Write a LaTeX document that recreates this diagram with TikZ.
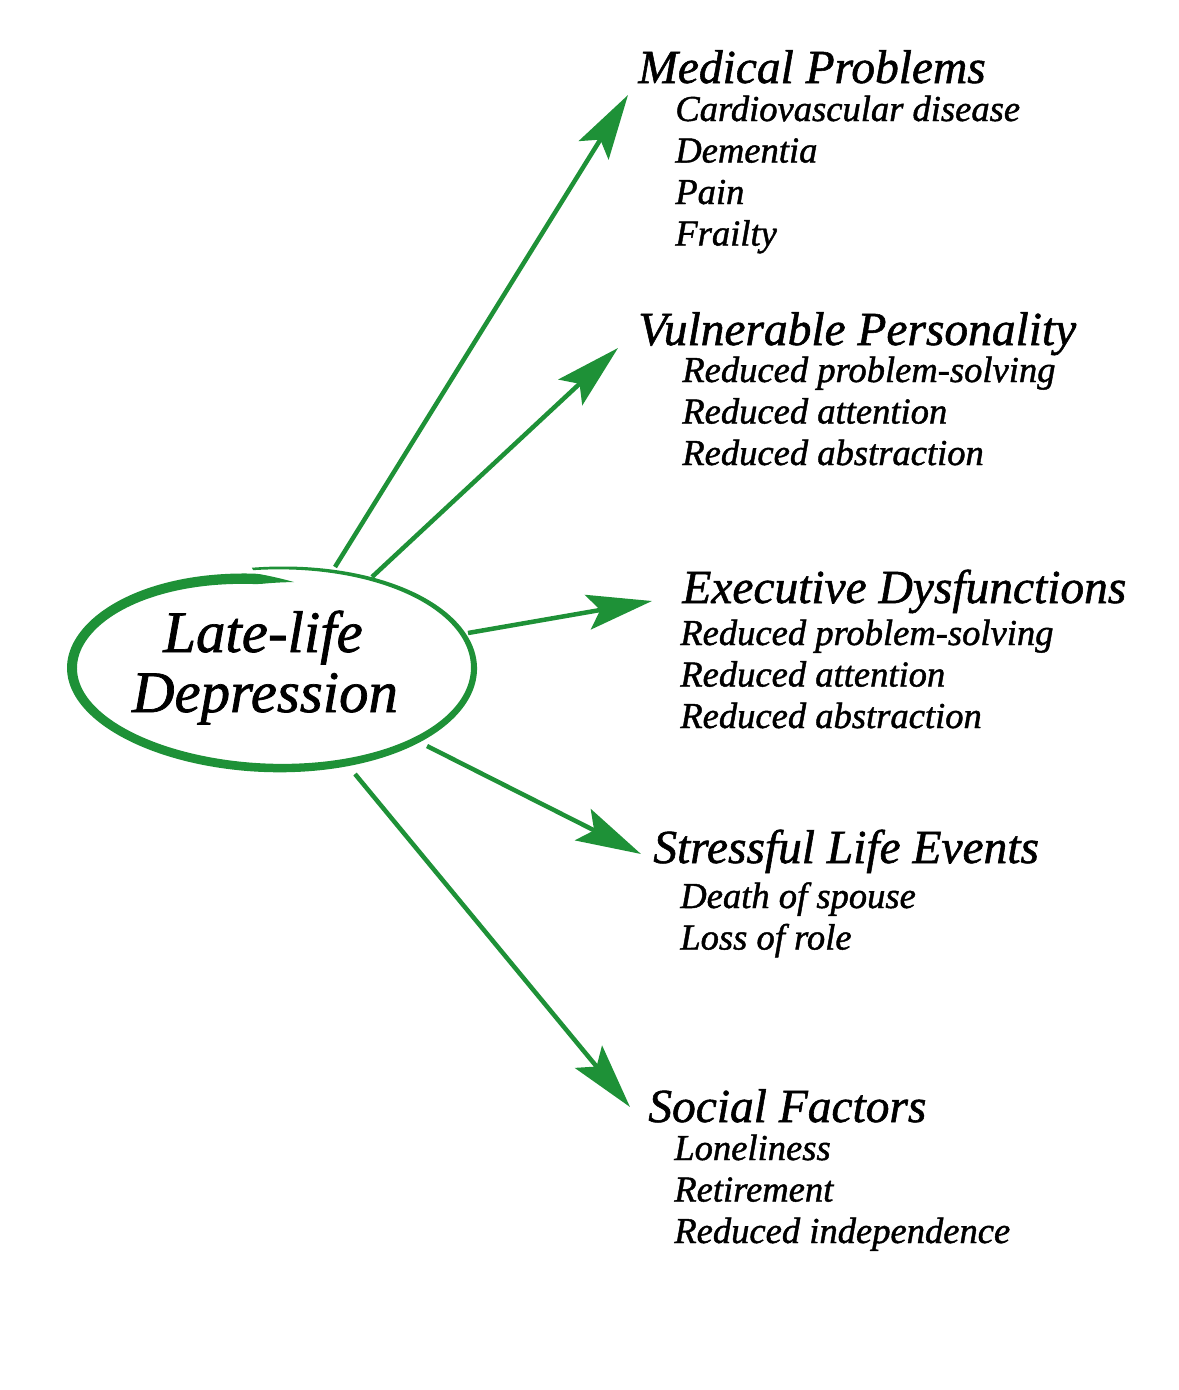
\documentclass[tikz,border=0pt]{standalone}
\usepackage{fontspec}
\setmainfont{Liberation Serif}[ItalicFeatures={FakeBold=1.2}]
\usetikzlibrary{arrows.meta}
\definecolor{leafgreen}{RGB}{30,145,55}

\begin{document}
\begin{tikzpicture}[x=0.02cm, y=-0.02cm,
  title/.style={anchor=base, inner sep=0pt, font=\fontsize{33.5}{34}\selectfont\itshape},
  head/.style={anchor=base west, inner sep=0pt, font=\fontsize{27}{30}\selectfont\itshape},
  item/.style={anchor=base west, inner sep=0pt, font=\fontsize{20.8}{24}\selectfont\itshape},
  arrow/.style={leafgreen, line width=0.09cm,
    -{Stealth[length=1.3cm, width=0.7cm, inset=0.25cm]}},
  declare function={ang(\t)=96-372*\t;
    ryy(\t)=100+4*cos(96-372*\t)-14*(max(0,\t-0.8)/0.2)^2;
    wid(\t)=(2.5+8*\t*(2-\t))*min(1,(1-\t)*36);}
]
\useasboundingbox (0,0) rectangle (1179,1390);

% hand-drawn ring round the title
\fill[leafgreen] plot[domain=0:1, samples=240, variable=\t]
    ({273+(201+wid(\t)/2)*cos(ang(\t))},{668-(ryy(\t)+wid(\t)/2)*sin(ang(\t))})
  -- plot[domain=1:0, samples=240, variable=\t]
    ({273+(201-wid(\t)/2)*cos(ang(\t))},{668-(ryy(\t)-wid(\t)/2)*sin(ang(\t))})
  -- cycle;
\node[title] (late) at (263,652) {Late-life};
\node[title] (dep) at (265,712) {Depression};

% groups
\node[head] (med) at (638,83) {Medical Problems};
\foreach \txt [count=\i] in {Cardiovascular disease, Dementia, Pain, Frailty}
  \node[item] (med-\i) at (675,{121+41.5*(\i-1)}) {\txt};
\node[head] (vul) at (638,345) {Vulnerable Personality};
\foreach \txt [count=\i] in {Reduced problem-solving, Reduced attention,
  Reduced abstraction}
  \node[item] (vul-\i) at (682,{382+41.5*(\i-1)}) {\txt};
\node[head] (exe) at (682,603) {Executive Dysfunctions};
\foreach \txt [count=\i] in {Reduced problem-solving, Reduced attention,
  Reduced abstraction}
  \node[item] (exe-\i) at (680,{645+41.5*(\i-1)}) {\txt};
\node[head] (str) at (653,863) {Stressful Life Events};
\foreach \txt [count=\i] in {Death of spouse, Loss of role}
  \node[item] (str-\i) at (680,{908+41.5*(\i-1)}) {\txt};
\node[head] (soc) at (648,1122) {Social Factors};
\foreach \txt [count=\i] in {Loneliness, Retirement, Reduced independence}
  \node[item] (soc-\i) at (674,{1160+41.5*(\i-1)}) {\txt};

% arrows
\coordinate (med-s) at (335,567); \coordinate (med-t) at (628,95);
\coordinate (vul-s) at (372,577); \coordinate (vul-t) at (618,348);
\coordinate (exe-s) at (468,633); \coordinate (exe-t) at (652,601);
\coordinate (str-s) at (427,746); \coordinate (str-t) at (641,854);
\coordinate (soc-s) at (355,774); \coordinate (soc-t) at (630,1107);
\foreach \a in {med, vul, exe, str, soc}
  \draw[arrow] (\a-s) -- (\a-t);
\end{tikzpicture}
\end{document}
